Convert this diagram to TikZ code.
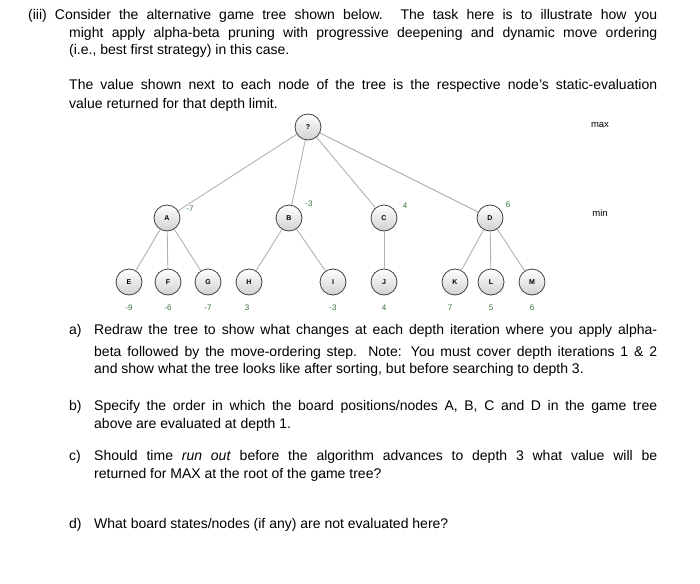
\documentclass[tikz,border=0pt]{standalone}
\usepackage{fontspec}
\setmainfont{Liberation Sans}
\begin{document}
\begin{tikzpicture}[x=1pt,y=-1pt,
  tn/.style={circle,draw=black!75,line width=0.8pt,inner sep=0pt,minimum size=26pt,top color=white,bottom color=black!18,font=\fontsize{7}{8}\selectfont\bfseries},
  edge/.style={draw=black!30,line width=0.9pt},
  val/.style={text=green!30!black!80,font=\fontsize{8}{9}\selectfont},
  lvl/.style={font=\fontsize{9.5}{11}\selectfont},
  ln/.style={anchor=base west,inner sep=0pt,font=\fontsize{14}{16}\selectfont}]
\useasboundingbox (0,0) rectangle (700,583);
% text
\node[ln] (t1) at (28,20) {\hbox to 629pt{(iii) Consider the alternative game tree shown below. The task here is to illustrate how you}};
\node[ln] (t2) at (69,38) {\hbox to 588pt{might apply alpha-beta pruning with progressive deepening and dynamic move ordering}};
\node[ln] (t3) at (69,55) {(i.e., best first strategy) in this case.};
\node[ln] (t4) at (69,90) {\hbox to 588pt{The value shown next to each node of the tree is the respective node’s static-evaluation}};
\node[ln] (t5) at (69,108) {value returned for that depth limit.};
\node[ln] (a0) at (69,334) {a)};
\node[ln] (a1) at (94,334) {\hbox to 563pt{Redraw the tree to show what changes at each depth iteration where you apply alpha-}};
\node[ln] (a2) at (94,356) {\hbox to 563pt{beta followed by the move-ordering step. Note: You must cover depth iterations 1 \& 2}};
\node[ln] (a3) at (94,373) {and show what the tree looks like after sorting, but before searching to depth 3.};
\node[ln] (b0) at (69,410) {b)};
\node[ln] (b1) at (94,410) {\hbox to 563pt{Specify the order in which the board positions/nodes A, B, C and D in the game tree}};
\node[ln] (b2) at (94,428) {above are evaluated at depth 1.};
\node[ln] (c0) at (69,460) {c)};
\node[ln] (c1) at (94,460) {\hbox to 563pt{Should time \emph{run out} before the algorithm advances to depth 3 what value will be}};
\node[ln] (c2) at (94,478) {returned for MAX at the root of the game tree?};
\node[ln] (d0) at (69,528) {d)};
\node[ln] (d1) at (94,528) {What board states/nodes (if any) are not evaluated here?};
% tree
\node[tn] (R) at (308,127) {?};
\node[tn] (A) at (167,218) {A};
\node[tn] (B) at (289,218) {B};
\node[tn] (C) at (384,218) {C};
\node[tn] (D) at (490,218) {D};
\foreach \n/\x in {E/129,F/168,G/208,H/249,I/333,J/384,K/455,L/491,M/532}
  \node[tn] (\n) at (\x,282) {\n};
\foreach \p/\c in {R/A,R/B,R/C,R/D,A/E,A/F,A/G,B/H,B/I,C/J,D/K,D/L,D/M}
  \path[edge] (\p) -- (\c);
\node[val] (vA) at (190,209) {-7};
\node[val] (vB) at (309,204) {-3};
\node[val] (vC) at (405,206) {4};
\node[val] (vD) at (508,205) {6};
\foreach \v/\x/\t in {E/129/-9,F/168/-6,G/208/-7,H/247/3,I/333/-3,J/384/4,K/450/7,L/491/5,M/532/6}
  \node[val] (v\v) at (\x,308) {\t};
\node[lvl] (mx) at (600,125) {max};
\node[lvl] (mn) at (600,213) {min};
\end{tikzpicture}
\end{document}
